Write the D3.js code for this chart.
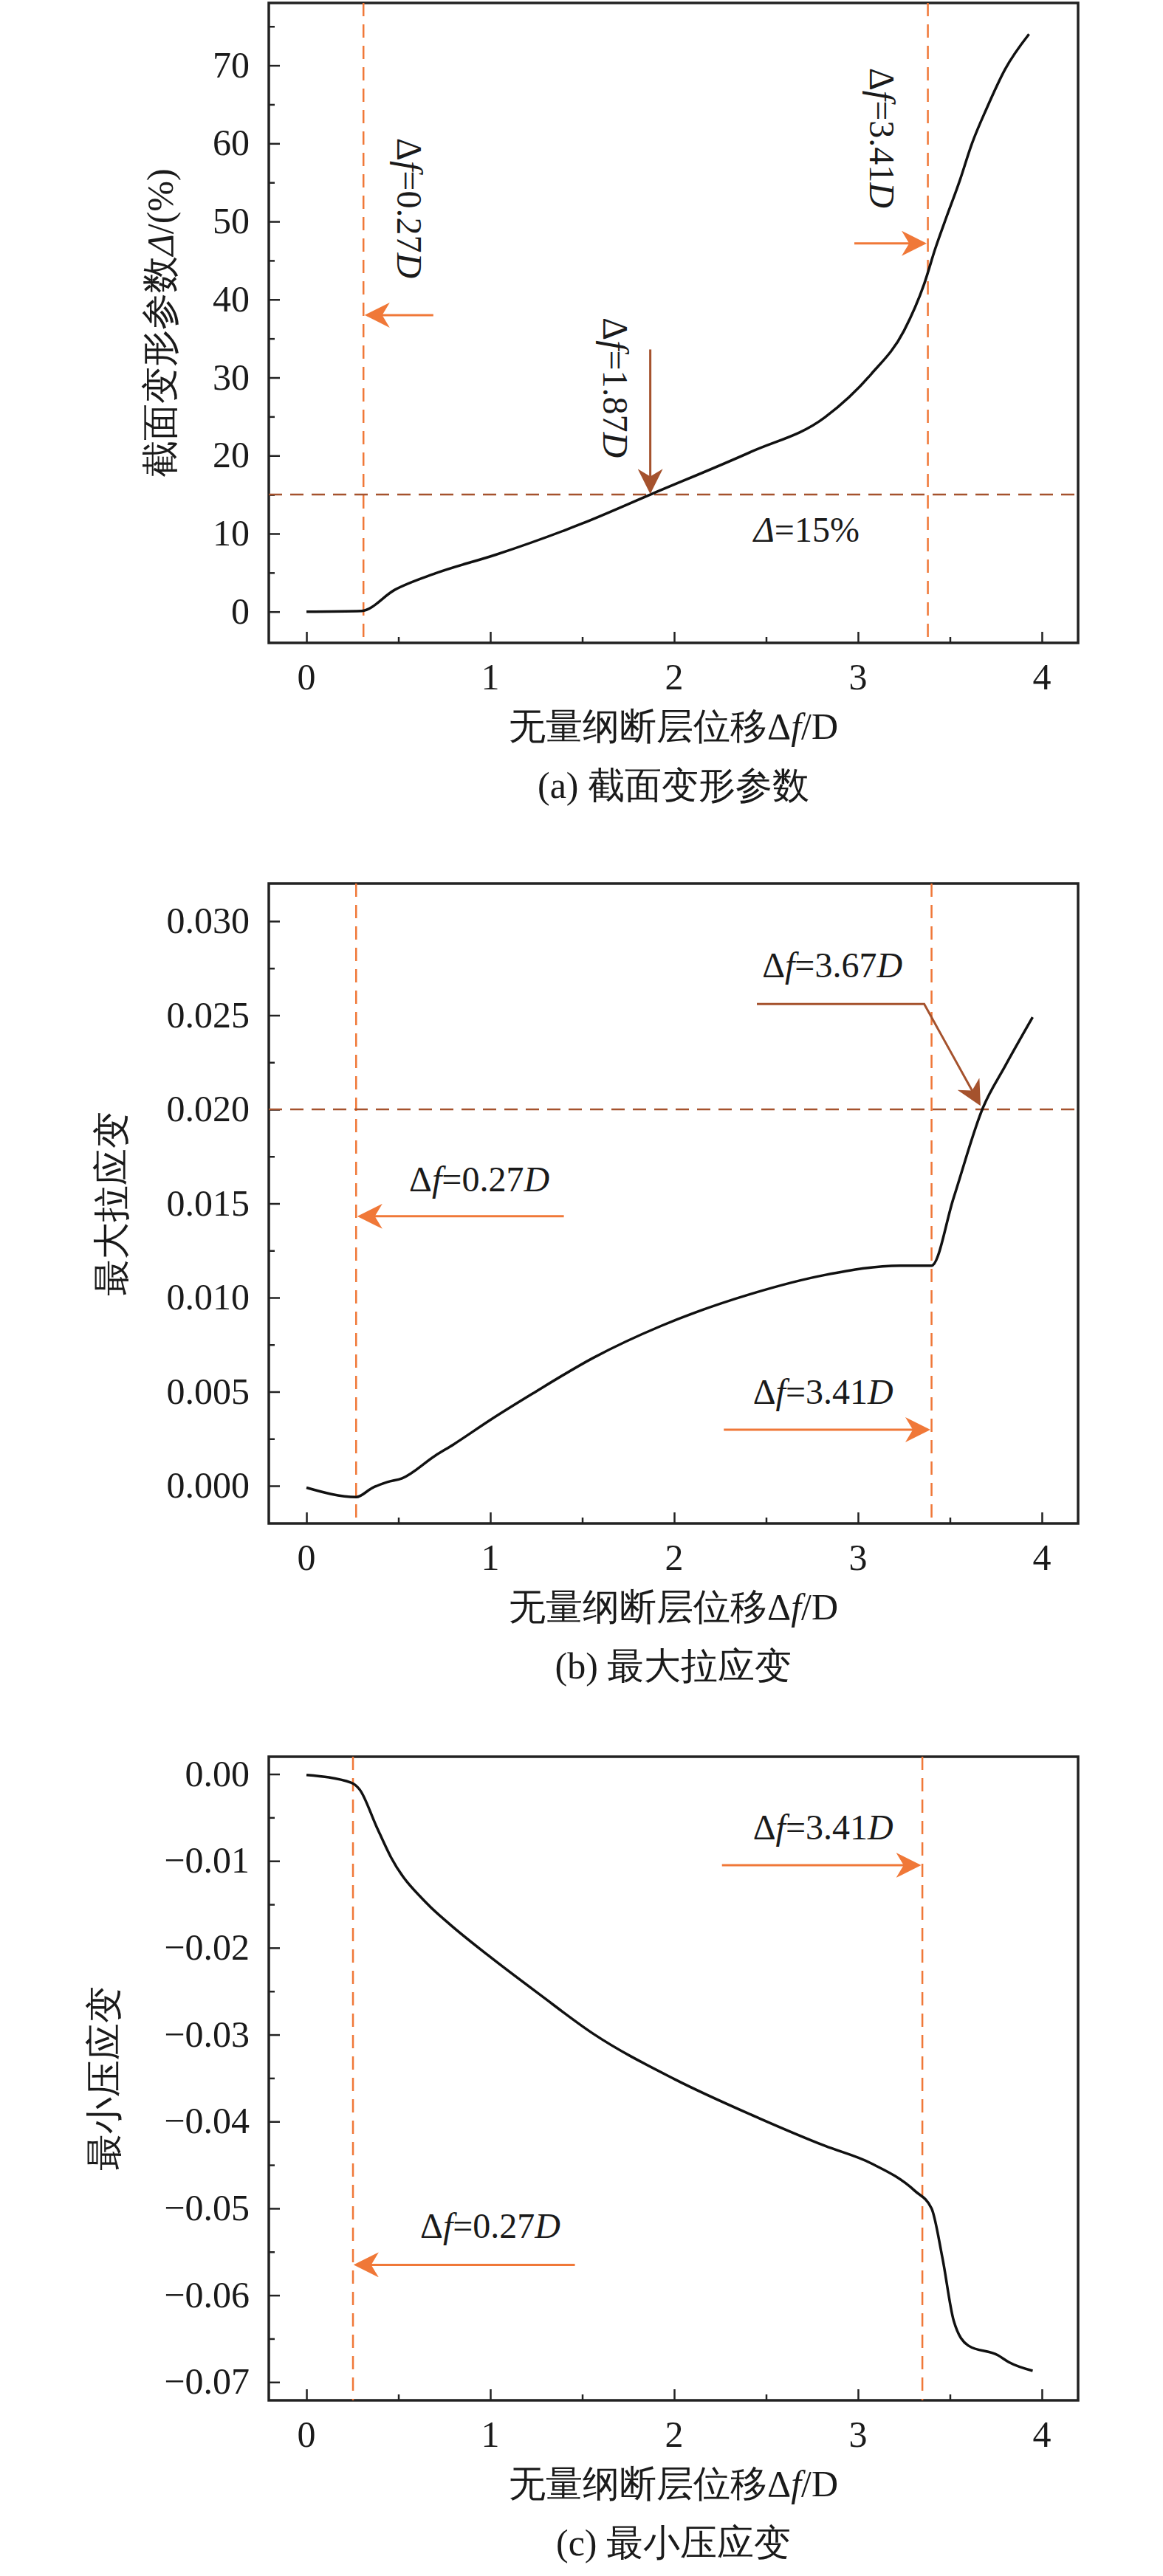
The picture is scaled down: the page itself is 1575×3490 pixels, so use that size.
<!DOCTYPE html>
<html><head><meta charset="utf-8">
<script src="https://cdn.jsdelivr.net/npm/d3@7"></script>
<style>body{margin:0;background:#fff}</style>
</head><body><svg id="fig" width="1575" height="3490"></svg>
<script>
// (a) section deformation parameter
var xA = [0,0.3,0.48,0.7,1.03,1.5,1.87,2.42,2.82,3.07,3.25,3.36,3.42,3.48,3.55,3.62,3.7,3.8,3.93];
var yA = [0,0.1,2.8,4.9,7.3,11.3,15,20.5,24.9,30.4,36,42,46.5,50.5,55,60,64.5,69.5,74];
// (b) max tensile strain
var xB = [0,0.27,0.36,0.44,0.52,0.7,0.8,1.0,1.23,1.56,1.93,2.42,2.82,3.23,3.4,3.52,3.68,3.8,3.95];
var yB = [-0.0001,-0.0006,-0.0001,0.0002,0.0004,0.0016,0.0022,0.0035,0.0049,0.0068,0.0085,0.0102,0.0112,0.0117,0.0117,0.0153,0.0201,0.0223,0.0249];
// (c) min compressive strain
var xC = [0,0.245,0.29,0.38,0.46,0.66,0.78,0.99,1.27,1.56,2.0,2.46,2.82,3.07,3.31,3.4,3.46,3.52,3.6,3.76,3.82,3.95];
var yC = [-0.0001,-0.001,-0.0018,-0.006,-0.0096,-0.015,-0.0173,-0.0209,-0.0254,-0.0299,-0.0351,-0.0396,-0.0428,-0.0448,-0.048,-0.05,-0.0558,-0.0629,-0.0658,-0.0669,-0.0677,-0.0687];

var xTicks = [0,1,2,3,4];
var xLabel = "无量纲断层位移Δ";
var ORANGE = "#f07838", BROWN = "#a5522d";
var FONT = "'Liberation Serif','Times New Roman',serif";

var svg = d3.select("#fig");
svg.append("defs").selectAll("marker").data([["ao",ORANGE],["ab",BROWN]]).join("marker")
  .attr("id", d => d[0]).attr("viewBox","0 0 10 10").attr("refX",9).attr("refY",5)
  .attr("markerWidth",34).attr("markerHeight",34).attr("markerUnits","userSpaceOnUse")
  .attr("orient","auto")
  .append("path").attr("d","M0,0 L10,5 L0,10 L3,5 Z").attr("fill", d => d[1]);

function panel(o) {
  var g = svg.append("g");
  var x = d3.scaleLinear().domain([-0.205, 4.197]).range([364, 1460]);
  var y = d3.scaleLinear().domain(o.ydom).range([o.bottom, o.top]);
  // axes (ticks pointing inward)
  var ax = d3.axisBottom(x).tickValues(d3.range(0,4.01,0.5)).tickSize(-14).tickFormat("");
  var gx = g.append("g").attr("transform","translate(0,"+o.bottom+")").call(ax);
  gx.selectAll(".tick line").attr("y2", (d) => d % 1 ? -8 : -15);
  var ay = d3.axisLeft(y).tickValues(o.yminor).tickSize(-14).tickFormat("");
  var gy = g.append("g").attr("transform","translate(364,0)").call(ay);
  gy.selectAll(".tick line").attr("x2", d => o.yticks.some(t => Math.abs(t-d)<1e-9) ? 15 : 8);
  g.selectAll(".domain").remove();
  g.selectAll(".tick line").attr("stroke","#222").attr("stroke-width",2.5);
  g.append("rect").attr("x",364).attr("y",o.top).attr("width",1096).attr("height",o.bottom-o.top)
    .attr("fill","none").attr("stroke","#222").attr("stroke-width",3.5);
  // tick labels
  g.selectAll(".xl").data(xTicks).join("text").attr("x", d => x(d)).attr("y", o.bottom+63)
    .attr("text-anchor","middle").text(d => d);
  g.selectAll(".yl").data(o.yticks).join("text").attr("x", 338).attr("y", d => y(d)+16)
    .attr("text-anchor","end").text(o.fmt);
  // axis titles
  var xt = g.append("text").attr("x", 912).attr("y", o.bottom+130).attr("text-anchor","middle").text(xLabel);
  xt.append("tspan").attr("font-style","italic").text("f");
  xt.append("tspan").text("/D");
  g.append("text").attr("x", 912).attr("y", o.bottom+210).attr("text-anchor","middle").text(o.caption);
  var yt = g.append("text").attr("transform","translate("+o.ylx+","+((o.top+o.bottom)/2)+") rotate(-90)")
    .attr("text-anchor","middle").text(o.ytitle[0]);
  if (o.ytitle[1]) { yt.append("tspan").attr("font-style","italic").text(o.ytitle[1]); yt.append("tspan").text(o.ytitle[2]); }
  // reference lines
  o.vlines.forEach(v => g.append("line").attr("x1",x(v)).attr("x2",x(v)).attr("y1",o.top).attr("y2",o.bottom)
    .attr("stroke",ORANGE).attr("stroke-width",2.5).attr("stroke-dasharray","18,11"));
  if (o.hline != null) g.append("line").attr("x1",364).attr("x2",1460).attr("y1",y(o.hline)).attr("y2",y(o.hline))
    .attr("stroke",BROWN).attr("stroke-width",2.5).attr("stroke-dasharray","18,11");
  // curve
  var line = d3.line().x(d => x(d[0])).y(d => y(d[1])).curve(d3.curveMonotoneX);
  g.append("path").datum(d3.zip(o.xs, o.ys)).attr("d", line).attr("fill","none")
    .attr("stroke","#111").attr("stroke-width",3.5);
  // annotations
  o.notes.forEach(n => {
    var t = g.append("text").attr("font-size",48).attr("text-anchor","middle").attr("dominant-baseline","middle");
    if (n.rot) t.attr("transform","translate("+x(n.x)+","+y(n.y)+") rotate(90)");
    else t.attr("x", x(n.x)).attr("y", y(n.y));
    if (n.delta) { t.append("tspan").attr("font-style","italic").text("Δ"); t.append("tspan").text("=15%"); return; }
    t.append("tspan").text("Δ"); t.append("tspan").attr("font-style","italic").text("f");
    t.append("tspan").text("=" + n.v); t.append("tspan").attr("font-style","italic").text("D");
  });
  o.arrows.forEach(a => g.append("path")
    .attr("d", d3.line()(a.pts.map(p => [x(p[0]), y(p[1])])))
    .attr("fill","none").attr("stroke", a.c).attr("stroke-width",3)
    .attr("marker-end","url(#" + (a.c === ORANGE ? "ao" : "ab") + ")"));
}

svg.attr("font-family", FONT).attr("font-size", 50).attr("fill","#1a1a1a");

panel({ top:4, bottom:871, ydom:[-4,78], yticks:d3.range(0,71,10), yminor:d3.range(0,76,5),
  fmt: d => d, xs:xA, ys:yA, ylx:234, caption:"(a) 截面变形参数", ytitle:["截面变形参数","Δ","/(%)"],
  vlines:[0.31,3.38], hline:15,
  notes:[{x:0.54,y:51.7,v:"0.27",rot:1},{x:1.66,y:28.7,v:"1.87",rot:1},{x:3.11,y:60.7,v:"3.41",rot:1},{x:2.72,y:10,delta:1}],
  arrows:[{c:ORANGE,pts:[[0.69,38],[0.33,38]]},{c:BROWN,pts:[[1.87,33.6],[1.87,15.4]]},{c:ORANGE,pts:[[2.98,47.2],[3.36,47.2]]}] });

panel({ top:1197, bottom:2064, ydom:[-0.002,0.032], yticks:d3.range(0,0.0301,0.005), yminor:d3.range(0,0.0301,0.0025),
  fmt: d => d.toFixed(3), xs:xB, ys:yB, ylx:168, caption:"(b) 最大拉应变", ytitle:["最大拉应变"],
  vlines:[0.27,3.40], hline:0.02,
  notes:[{x:2.86,y:0.02745,v:"3.67"},{x:0.94,y:0.01608,v:"0.27"},{x:2.81,y:0.0048,v:"3.41"}],
  arrows:[{c:BROWN,pts:[[2.45,0.0256],[3.36,0.0256],[3.66,0.0203]]},{c:ORANGE,pts:[[1.40,0.01432],[0.29,0.01432]]},{c:ORANGE,pts:[[2.27,0.00298],[3.38,0.00298]]}] });

panel({ top:2380, bottom:3252, ydom:[-0.0721,0.002], yticks:d3.range(0,-0.0701,-0.01), yminor:d3.range(0,-0.0721,-0.005),
  fmt: d => d === 0 ? "0.00" : "\u2212" + Math.abs(d).toFixed(2), xs:xC, ys:yC, ylx:158, caption:"(c) 最小压应变", ytitle:["最小压应变"],
  vlines:[0.253,3.35], hline:null,
  notes:[{x:2.81,y:-0.0066,v:"3.41"},{x:1.0,y:-0.0525,v:"0.27"}],
  arrows:[{c:ORANGE,pts:[[2.26,-0.0105],[3.33,-0.0105]]},{c:ORANGE,pts:[[1.46,-0.0565],[0.27,-0.0565]]}] });
</script></body></html>
